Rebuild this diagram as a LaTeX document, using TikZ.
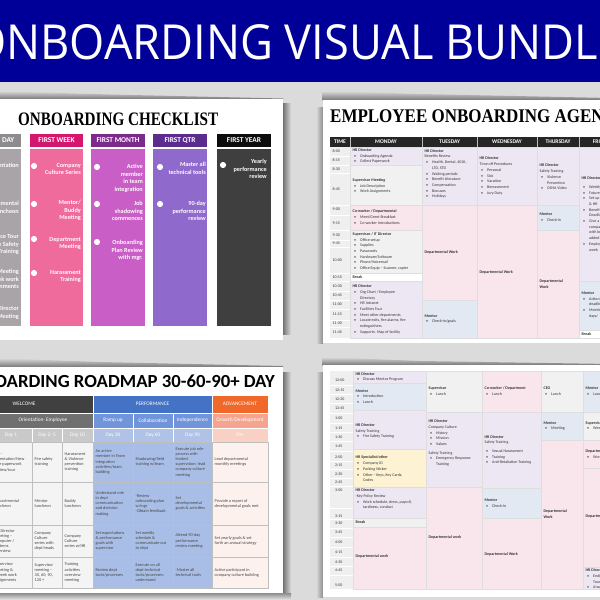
\documentclass[tikz,border=0pt]{standalone}
\usepackage{graphicx}
\usepackage{fontspec}
\setmainfont{Carlito}
\newfontfamily\serifT{Liberation Serif}
\newfontfamily\bannerF{Open Sans}
\usetikzlibrary{calc}
\definecolor{bannerblue}{HTML}{000099}
\definecolor{bg}{HTML}{DBDBDB}
\definecolor{c1h}{HTML}{8E8B8E}\definecolor{c1b}{HTML}{A8A4A8}
\definecolor{c2h}{HTML}{D4166E}\definecolor{c2b}{HTML}{EE6B9C}
\definecolor{c3h}{HTML}{7C2A8B}\definecolor{c3b}{HTML}{C95EC7}
\definecolor{c4h}{HTML}{5B2C8E}\definecolor{c4b}{HTML}{8F6ACC}
\definecolor{c5h}{HTML}{0D0D0D}\definecolor{c5b}{HTML}{3F3F3F}
\definecolor{lav}{HTML}{EDE7F3}\definecolor{pnk}{HTML}{F8E6EC}
\definecolor{gry}{HTML}{F1F1F1}\definecolor{blu}{HTML}{E3E9F2}
\definecolor{yel}{HTML}{FDF3D3}\definecolor{ahdr}{HTML}{262626}
\definecolor{tcol}{HTML}{EFEFEF}
\definecolor{rmwel}{HTML}{404040}\definecolor{rmori}{HTML}{707070}
\definecolor{rmday}{HTML}{C9C9C9}\definecolor{rmcell}{HTML}{F4F4F4}
\definecolor{rmperf}{HTML}{4472C4}\definecolor{rmramp}{HTML}{7195DA}
\definecolor{rmdayb}{HTML}{B0C2E6}\definecolor{rmbody}{HTML}{A9BEE6}
\definecolor{rmadv}{HTML}{F0682A}\definecolor{rmgrow}{HTML}{F5A58F}
\definecolor{rmnin}{HTML}{F9D0C4}\definecolor{rmlast}{HTML}{FDF1EE}
\newcommand\agF{\fontsize{4bp}{5.7bp}\selectfont}
\newcommand\rmF{\fontsize{4.3bp}{5.2bp}\selectfont}
\newcommand\rmhF{\fontsize{5.3bp}{6bp}\selectfont}
\newcommand\ckF{\bfseries\fontsize{6.2bp}{7.6bp}\selectfont}
\newcommand\ckhF{\bfseries\fontsize{7.4bp}{8bp}\selectfont}
\newcommand\ahF{\bfseries\fontsize{5.6bp}{6bp}\selectfont}
\newcommand\bul[1]{\hspace*{1.5bp}\makebox[6bp][l]{\textbullet}#1}
\newcommand\bct[1]{\hspace*{7.5bp}#1}
\tikzset{
 txt/.style={font=\agF, align=left, inner sep=0pt, text=black!80},
 rtxt/.style={font=\rmF, align=left, inner sep=0pt, text=black!72},
 rhtxt/.style={font=\rmhF, inner sep=0pt, text=white},
 ckt/.style={font=\ckF, align=right, inner sep=0pt, text=white!94!pink, anchor=north east},
 ckh/.style={font=\ckhF, inner sep=0pt, text=white},
 aht/.style={font=\ahF, inner sep=0pt, text=white},
 gridl/.style={draw=black!13, line width=0.4pt},
 rmgrid/.style={draw=black!25, line width=0.4pt},
 paper/.style={fill=white}
}
% block of the agenda: name, x1, y1, x2, y2, fill, text y, text
\newcommand\blk[8]{\fill[#6] (#2,#3) rectangle (#4,#5); \draw[gridl] (#2,#3) rectangle (#4,#5);
 \node[txt,anchor=west] (#1) at (#2+2.5,#7) {#8};}
% roadmap body cell: name, x1, y1, x2, y2, fill, text
\newcommand\rcell[7]{\fill[#6] (#2,#3) rectangle (#4,#5); \draw[rmgrid] (#2,#3) rectangle (#4,#5);
 \node[rtxt,anchor=west] (#1) at (#2+2.5,{(#3+#5)/2}) {#7};}
% roadmap header cell: name, x1, y1, x2, y2, fill, text x, text
\newcommand\rhead[8]{\fill[#6] (#2,#3) rectangle (#4,#5); \draw[white,line width=0.5pt] (#2,#3) rectangle (#4,#5);
 \node[rhtxt] (#1) at (#7,{(#3+#5)/2}) {#8};}
\begin{document}
\begin{tikzpicture}[x=1bp,y=-1bp]
\useasboundingbox (0,0) rectangle (600,600);
\clip (0,0) rectangle (600,600);
\fill[bg] (0,0) rectangle (600,600);
% banner
\fill[bannerblue] (0,0) rectangle (600,82);
\node[anchor=base west,inner sep=0pt,text=white] (banner) at (-29,60) {\resizebox{652bp}{35bp}{\bannerF ONBOARDING VISUAL BUNDLE}};
% ---------- shadows ----------
\shade[top color=bg,bottom color=black!55] (-10,91) -- (110,94.5) -- (283,98.5) -- (283,99.5) -- (-10,99.5) -- cycle;
\shade[left color=black!55,right color=bg] (283,104) rectangle (291,334);
\shade[top color=bg,bottom color=black!55] (322,91) -- (420,94) -- (610,98) -- (610,100.5) -- (322,100.5) -- cycle;
\shade[left color=bg,right color=black!45] (316,108) rectangle (323,343);
\shade[top color=bg,bottom color=black!55] (-10,358) -- (100,362) -- (283,366) -- (283,367.5) -- (-10,367.5) -- cycle;
\shade[left color=black!55,right color=bg] (283,372) rectangle (291,598);
\shade[top color=black!45,bottom color=bg] (-10,593) rectangle (291,599);
\shade[top color=bg,bottom color=black!55] (322,357) -- (420,361) -- (610,364) -- (610,365.5) -- (322,365.5) -- cycle;
\shade[left color=bg,right color=black!45] (316,372) rectangle (323,597);
% ---------- papers ----------
\fill[paper] (-10,99) rectangle (283,340);
\fill[paper] (323,100) rectangle (610,343);
\fill[paper] (-10,367) rectangle (283,593);
\fill[paper] (323,365) rectangle (610,597);
% ================= CHECKLIST =================
\node[anchor=base west,inner sep=0pt] (cktitle) at (18,126) {\resizebox{200bp}{12.6bp}{\serifT\bfseries ONBOARDING CHECKLIST}};
\foreach \n/\xa/\xb/\lx/\hcol/\bcol/\lab in {1/-33/21/-1/c1h/c1b/FIRST DAY,2/30/83/56.5/c2h/c2b/FIRST WEEK,3/91/145/118/c3h/c3b/FIRST MONTH,4/153/207/180/c4h/c4b/FIRST QTR,5/217/271/244/c5h/c5b/FIRST YEAR}{
 \fill[\hcol] (\xa,134) rectangle (\xb,147);
 \node[ckh] (ckh\n) at (\lx,140.5) {\lab};
 \fill[\bcol] (\xa,149) rectangle (\xb,326);
}
\foreach \x/\y in {34/166,34/204,34/239,34/273,97/167,97/204,97/242,160/167,160/204,223/165}
 \fill[white] (\x,\y) circle (3.1);
\node[ckt] (k11) at (19,163) {Orientation};
\node[ckt] (k12) at (19,201) {Departmental\\Luncheon};
\node[ckt] (k13) at (19,234) {Office Tour\\Fire Safety\\Training};
\node[ckt] (k14) at (19,269) {Supervisor Meeting\\1 week work\\assignments};
\node[ckt] (k15) at (19,306) {HR Director\\Meeting};
\node[ckt] (k21) at (81,163) {Company\\Culture Series};
\node[ckt] (k22) at (81,200) {Mentor/\\Buddy\\Meeting};
\node[ckt] (k23) at (81,237) {Department\\Meeting};
\node[ckt] (k24) at (81,270) {Harassment\\Training};
\node[ckt] (k31) at (143,164) {Active\\member\\in team\\integration};
\node[ckt] (k32) at (143,201) {Job\\shadowing\\commences};
\node[ckt] (k33) at (143,240) {Onboarding\\Plan Review\\with mgr.};
\node[ckt] (k41) at (206,162) {Master all\\technical tools};
\node[ckt] (k42) at (206,201) {90-day\\performance\\review};
\node[ckt] (k51) at (267,159) {Yearly\\performance\\review};
% ================= AGENDA (top right) =================
\node[anchor=base west,inner sep=0pt] (agtitle) at (330,123) {\resizebox{298bp}{12.8bp}{\serifT\bfseries EMPLOYEE ONBOARDING AGENDA}};
\fill[ahdr] (330,137) rectangle (610,147);
\foreach \x in {350,422,477,537,579} \draw[white!75!black,line width=0.5pt] (\x,137) -- (\x,147);
\node[aht] (h0) at (340,142) {TIME};
\node[aht] (h1) at (386,142) {MONDAY};
\node[aht] (h2) at (449.5,142) {TUESDAY};
\node[aht] (h3) at (507,142) {WEDNESDAY};
\node[aht] (h4) at (558,142) {THURSDAY};
\node[aht] (h5) at (601,142) {FRIDAY};
\fill[tcol] (330,147) rectangle (350,338);
\foreach \y in {156,165,173,205,215,230,240,247,273,281,291,300,309,320,327} \draw[white,line width=0.7pt] (330,\y) -- (350,\y);
\foreach \t/\y [count=\i] in {8:00/151,8:15/160.5,8:30/169,8:45/189,9:00/209,9:15/223,9:30/235,9:45/243.5,10:00/260,10:15/277,10:30/286,10:45/295.5,11:00/304.5,11:15/314.5,11:30/323.5,11:45/332.5}
 \node[txt,anchor=west] (ta\i) at (332.5,\y) {\t};
% Monday
\blk{am1}{350}{147}{422}{165}{lav}{156}{\textbf{HR Director}\\\bul{Onboarding Agenda}\\\bul{Collect Paperwork}}
\blk{am2}{350}{165}{422}{205}{gry}{186}{\textbf{Supervisor Meeting}\\\bul{Job Description}\\\bul{Work Assignments}}
\blk{am3}{350}{205}{422}{230}{pnk}{217}{\textbf{Co-worker / Departmental}\\\bul{Meet/Greet Breakfast}\\\bul{Co-worker Introductions}}
\blk{am4}{350}{230}{422}{273}{gry}{251.5}{\textbf{Supervisor / IT Director}\\\bul{Office setup}\\\bul{Supplies}\\\bul{Passwords}\\\bul{Hardware/Software}\\\bul{Phone/Voicemail}\\\bul{Office Equip -- Scanner, copier}}
\blk{am5}{350}{273}{422}{281}{white}{277}{\textbf{Break}}
\blk{am6}{350}{281}{422}{338}{lav}{309.5}{\textbf{HR Director}\\\bul{Org Chart / Employee}\\\bct{Directory}\\\bul{HR Intranet}\\\bul{Facilities Tour}\\\bul{Meet other departments}\\\bul{Locate exits, fire alarms, fire}\\\bct{extinguishers}\\\bul{Supports: Map of facility}}
% Tuesday
\blk{at1}{422}{147}{477}{205}{lav}{174}{\textbf{HR Director}\\Benefits Review\\\bul{Health, Dental, 401K,}\\\bct{LTD, STD}\\\bul{Waiting periods}\\\bul{Benefit Literature}\\\bul{Compensation}\\\bul{Bonuses}\\\bul{Holidays}}
\blk{at2}{422}{205}{477}{300}{pnk}{252}{\textbf{Departmental Work}}
\blk{at3}{422}{300}{477}{338}{blu}{319}{\textbf{Mentor}\\\bul{Check-in/goals}}
% Wednesday
\blk{aw1}{477}{147}{537}{205}{lav}{176}{\textbf{HR Director}\\Time off Procedures\\\bul{Personal}\\\bul{Sick}\\\bul{Vacation}\\\bul{Bereavement}\\\bul{Jury Duty}}
\blk{aw2}{477}{205}{537}{338}{pnk}{272}{\textbf{Departmental Work}}
% Thursday
\blk{ar1}{537}{147}{579}{205}{lav}{177}{\textbf{HR Director}\\Safety Training\\\bul{Violence}\\\bct{Prevention}\\\bul{OSHA Video}}
\blk{ar2}{537}{205}{579}{230}{blu}{217}{\textbf{Mentor}\\\bul{Check-in}}
\blk{ar3}{537}{230}{579}{338}{pnk}{284}{\textbf{Departmental}\\\textbf{Work}}
% Friday
\blk{af1}{579}{147}{640}{281}{lav}{214}{\textbf{HR Director}\\[3bp]\bul{Weekly}\\\bul{Future}\\\bul{Set up}\\\bct{\& HR}\\\bul{Benefits}\\\bct{Deadlines}\\\bul{Give a}\\\bct{company}\\\bct{with key}\\\bct{added}\\\bul{Employee}\\\bct{week}}
\blk{af2}{579}{281}{640}{330}{blu}{305}{\textbf{Mentor}\\\bul{Action}\\\bct{deadlines}\\\bul{Meeting}\\\bct{days/}}
\blk{af3}{579}{330}{640}{338}{white}{334}{\textbf{Break}}
% ================= AGENDA (bottom right) =================
\fill[tcol] (330,371) rectangle (353,589);
\foreach \y in {385,394.5,403.5,413,423,432.5,441.5,451.5,461,469.5,478,486,508,519,528,537,547,557,566,575} \draw[white,line width=0.7pt] (330,\y) -- (353,\y);
\foreach \t/\y [count=\i] in {12:00/380,12:15/390,12:30/399,12:45/408,1:00/418,1:15/428,1:30/437,1:45/446,2:00/457,2:15/465,2:30/474,2:45/482,3:00/490,3:15/516,3:30/523,3:45/532,4:00/542,4:15/552,4:30/562,4:45/570,5:00/585}
 \node[txt,anchor=west] (tb\i) at (335,\y) {\t};
% Monday
\blk{bm1}{353}{371}{426}{383}{lav}{377}{\textbf{HR Director}\\\bul{Discuss Mentor Program}}
\blk{bm2}{353}{383}{426}{410}{blu}{396.5}{\textbf{Mentor}\\\bul{Introduction}\\\bul{Lunch}}
\blk{bm3}{353}{410}{426}{449}{lav}{431}{\textbf{HR Director}\\Safety Training\\\bul{Fire Safety Training}}
\blk{bm4}{353}{449}{426}{487}{yel}{469}{\textbf{HR Specialist/other}\\\bul{Company ID}\\\bul{Parking Sticker}\\\bul{Other -- Keys, Key Cards,}\\\bct{Codes}}
\blk{bm5}{353}{487}{426}{518}{lav}{499}{\textbf{HR Director}\\-Key Policy Review\\\bul{Work schedule, dress, payroll,}\\\bct{tardiness, conduct}}
\blk{bm6}{353}{518}{426}{527}{gry}{522.5}{\textbf{Break}}
\blk{bm7}{353}{527}{426}{589}{pnk}{556}{\textbf{Departmental work}}
% Tuesday
\blk{bt1}{426}{371}{482}{412}{gry}{391}{\textbf{Supervisor}\\\bul{Lunch}}
\blk{bt2}{426}{412}{482}{487}{lav}{443}{\textbf{HR Director}\\Company Culture\\\bul{History}\\\bul{Mission}\\\bul{Values}\\[3bp]Safety Training\\\bul{Emergency Response}\\\bct{Training}}
\blk{bt3}{426}{487}{482}{589}{pnk}{537}{\textbf{Departmental work}}
% Wednesday
\blk{bw1}{482}{371}{541}{412}{pnk}{391}{\textbf{Co-worker / Department}\\\bul{Lunch}}
\blk{bw2}{482}{412}{541}{488}{lav}{450}{\textbf{HR Director}\\Safety Training\\[3bp]\bul{Sexual Harassment}\\\bul{Training}\\\bul{Anti-Retaliation Training}}
\blk{bw3}{482}{488}{541}{518}{blu}{503}{\textbf{Mentor}\\\bul{Check-In}}
\blk{bw4}{482}{518}{541}{589}{pnk}{554}{\textbf{Departmental Work}}
% Thursday
\blk{br1}{541}{371}{583}{412}{gry}{391}{\textbf{CEO}\\\bul{Lunch}}
\blk{br2}{541}{412}{583}{440}{blu}{426}{\textbf{Mentor}\\\bul{Meeting}}
\blk{br3}{541}{440}{583}{589}{pnk}{514}{\textbf{Departmental}\\\textbf{Work}}
% Friday
\blk{bf1}{583}{371}{640}{412}{blu}{391}{\textbf{Mentor}\\\bul{Lunch}}
\blk{bf2}{583}{412}{640}{440}{gry}{426}{\textbf{Supervisor}\\\bul{Weekly}}
\blk{bf3}{583}{440}{640}{468}{pnk}{454}{\textbf{Departmental}\\\bul{Work}}
\blk{bf4}{583}{468}{640}{567}{pnk}{516}{\textbf{Departmental Work}}
\blk{bf5}{583}{567}{640}{589}{lav}{579}{\textbf{HR Director}\\\bul{Ending}\\\bct{Tour}\\\bul{Answer}}
% ================= ROADMAP =================
\node[anchor=base east,inner sep=0pt] (rmtitle) at (275,387) {\resizebox{316bp}{12.6bp}{\bfseries ONBOARDING ROADMAP 30-60-90+ DAY}};
\rhead{rh1}{-60}{395}{93}{413}{rmwel}{24}{WELCOME}
\rhead{rh2}{93}{395}{212}{413}{rmperf}{152.5}{PERFORMANCE}
\rhead{rh3}{212}{395}{268}{413}{rmadv}{240}{ADVANCEMENT}
\rhead{rs1}{-60}{413}{93}{428}{rmori}{43}{Orientation- Employee}
\rhead{rs2}{93}{413}{133}{428}{rmramp}{113}{Ramp up}
\rhead{rs3}{133}{413}{173}{428}{rmramp}{153}{Collaboration}
\rhead{rs4}{173}{413}{212}{428}{rmramp}{192.5}{Independence}
\rhead{rs5}{212}{413}{268}{428}{rmgrow}{240}{Growth/Development}
\rhead{rd1}{-60}{428}{32}{442}{rmday}{11}{Day 1}
\rhead{rd2}{32}{428}{62}{442}{rmday}{47}{Day 2- 5}
\rhead{rd3}{62}{428}{93}{442}{rmday}{77.5}{Day 10}
\rhead{rd4}{93}{428}{133}{442}{rmdayb}{113}{Day 30}
\rhead{rd5}{133}{428}{173}{442}{rmdayb}{153}{Day 60}
\rhead{rd6}{173}{428}{212}{442}{rmdayb}{192.5}{Day 90}
\rhead{rd7}{212}{428}{268}{442}{rmnin}{240}{90+}
% row 1
\rcell{r41}{-8}{442}{32}{482}{rmcell}{HR -\\Orientation/New\\hire paperwork\\review/tour}
\rcell{r42}{32}{442}{62}{482}{rmcell}{Fire safety\\training}
\rcell{r43}{62}{442}{93}{482}{rmcell}{Harassment\\\& Violence\\prevention\\training}
\rcell{r44}{93}{442}{133}{482}{rmbody}{An active\\member in Team\\integration\\activities/team\\building}
\rcell{r45}{133}{442}{173}{482}{rmbody}{Shadowing/field\\training w/team}
\rcell{r46}{173}{442}{212}{482}{rmbody}{Execute job role\\process with\\limited\\supervision; lead\\company culture\\meeting}
\rcell{r47}{212}{442}{268}{482}{rmlast}{Lead departmental\\monthly meetings}
% row 2
\rcell{r51}{-8}{482}{32}{525}{rmcell}{Departmental\\luncheon}
\rcell{r52}{32}{482}{62}{525}{rmcell}{Mentor\\luncheon}
\rcell{r53}{62}{482}{93}{525}{rmcell}{Buddy\\luncheon}
\rcell{r54}{93}{482}{133}{525}{rmbody}{Understand role\\in dept\\communication\\and decision\\making}
\rcell{r55}{133}{482}{173}{525}{rmbody}{-Review\\onboarding plan\\w/mgr\\-Obtain feedback}
\rcell{r56}{173}{482}{212}{525}{rmbody}{Set\\developmental\\goals \& activities}
\rcell{r57}{212}{482}{268}{525}{rmlast}{Provide a report of\\developmental goals met}
% row 3
\rcell{r61}{-8}{525}{32}{557}{rmcell}{HR Director\\meeting --\\computer /\\systems\\overview}
\rcell{r62}{32}{525}{62}{557}{rmcell}{Company\\Culture\\series with\\dept heads}
\rcell{r63}{62}{525}{93}{557}{rmcell}{Company\\Culture\\series w/HR}
\rcell{r64}{93}{525}{133}{557}{rmbody}{Set expectations\\\& performance\\goals with\\supervisor}
\rcell{r65}{133}{525}{173}{557}{rmbody}{Set weekly\\schedule \&\\communicate out\\to dept}
\rcell{r66}{173}{525}{212}{557}{rmbody}{Attend 90-day\\performance\\review meeting}
\rcell{r67}{212}{525}{268}{557}{rmlast}{Set yearly goals \& set\\forth an annual strategy}
% row 4
\rcell{r71}{-8}{557}{32}{588}{rmcell}{Supervisor\\meeting \&\\1 week work\\assignments}
\rcell{r72}{32}{557}{62}{588}{rmcell}{Supervisor\\meeting --\\30, 60, 90,\\120 +}
\rcell{r73}{62}{557}{93}{588}{rmcell}{Training\\activities\\overview\\meeting}
\rcell{r74}{93}{557}{133}{588}{rmbody}{Review dept\\tools/processes}
\rcell{r75}{133}{557}{173}{588}{rmbody}{Execute on all\\dept technical\\tools/processes;\\understand}
\rcell{r76}{173}{557}{212}{588}{rmbody}{-Master all\\technical tools}
\rcell{r77}{212}{557}{268}{588}{rmlast}{Active participant in\\company culture building}
\end{tikzpicture}
\end{document}
